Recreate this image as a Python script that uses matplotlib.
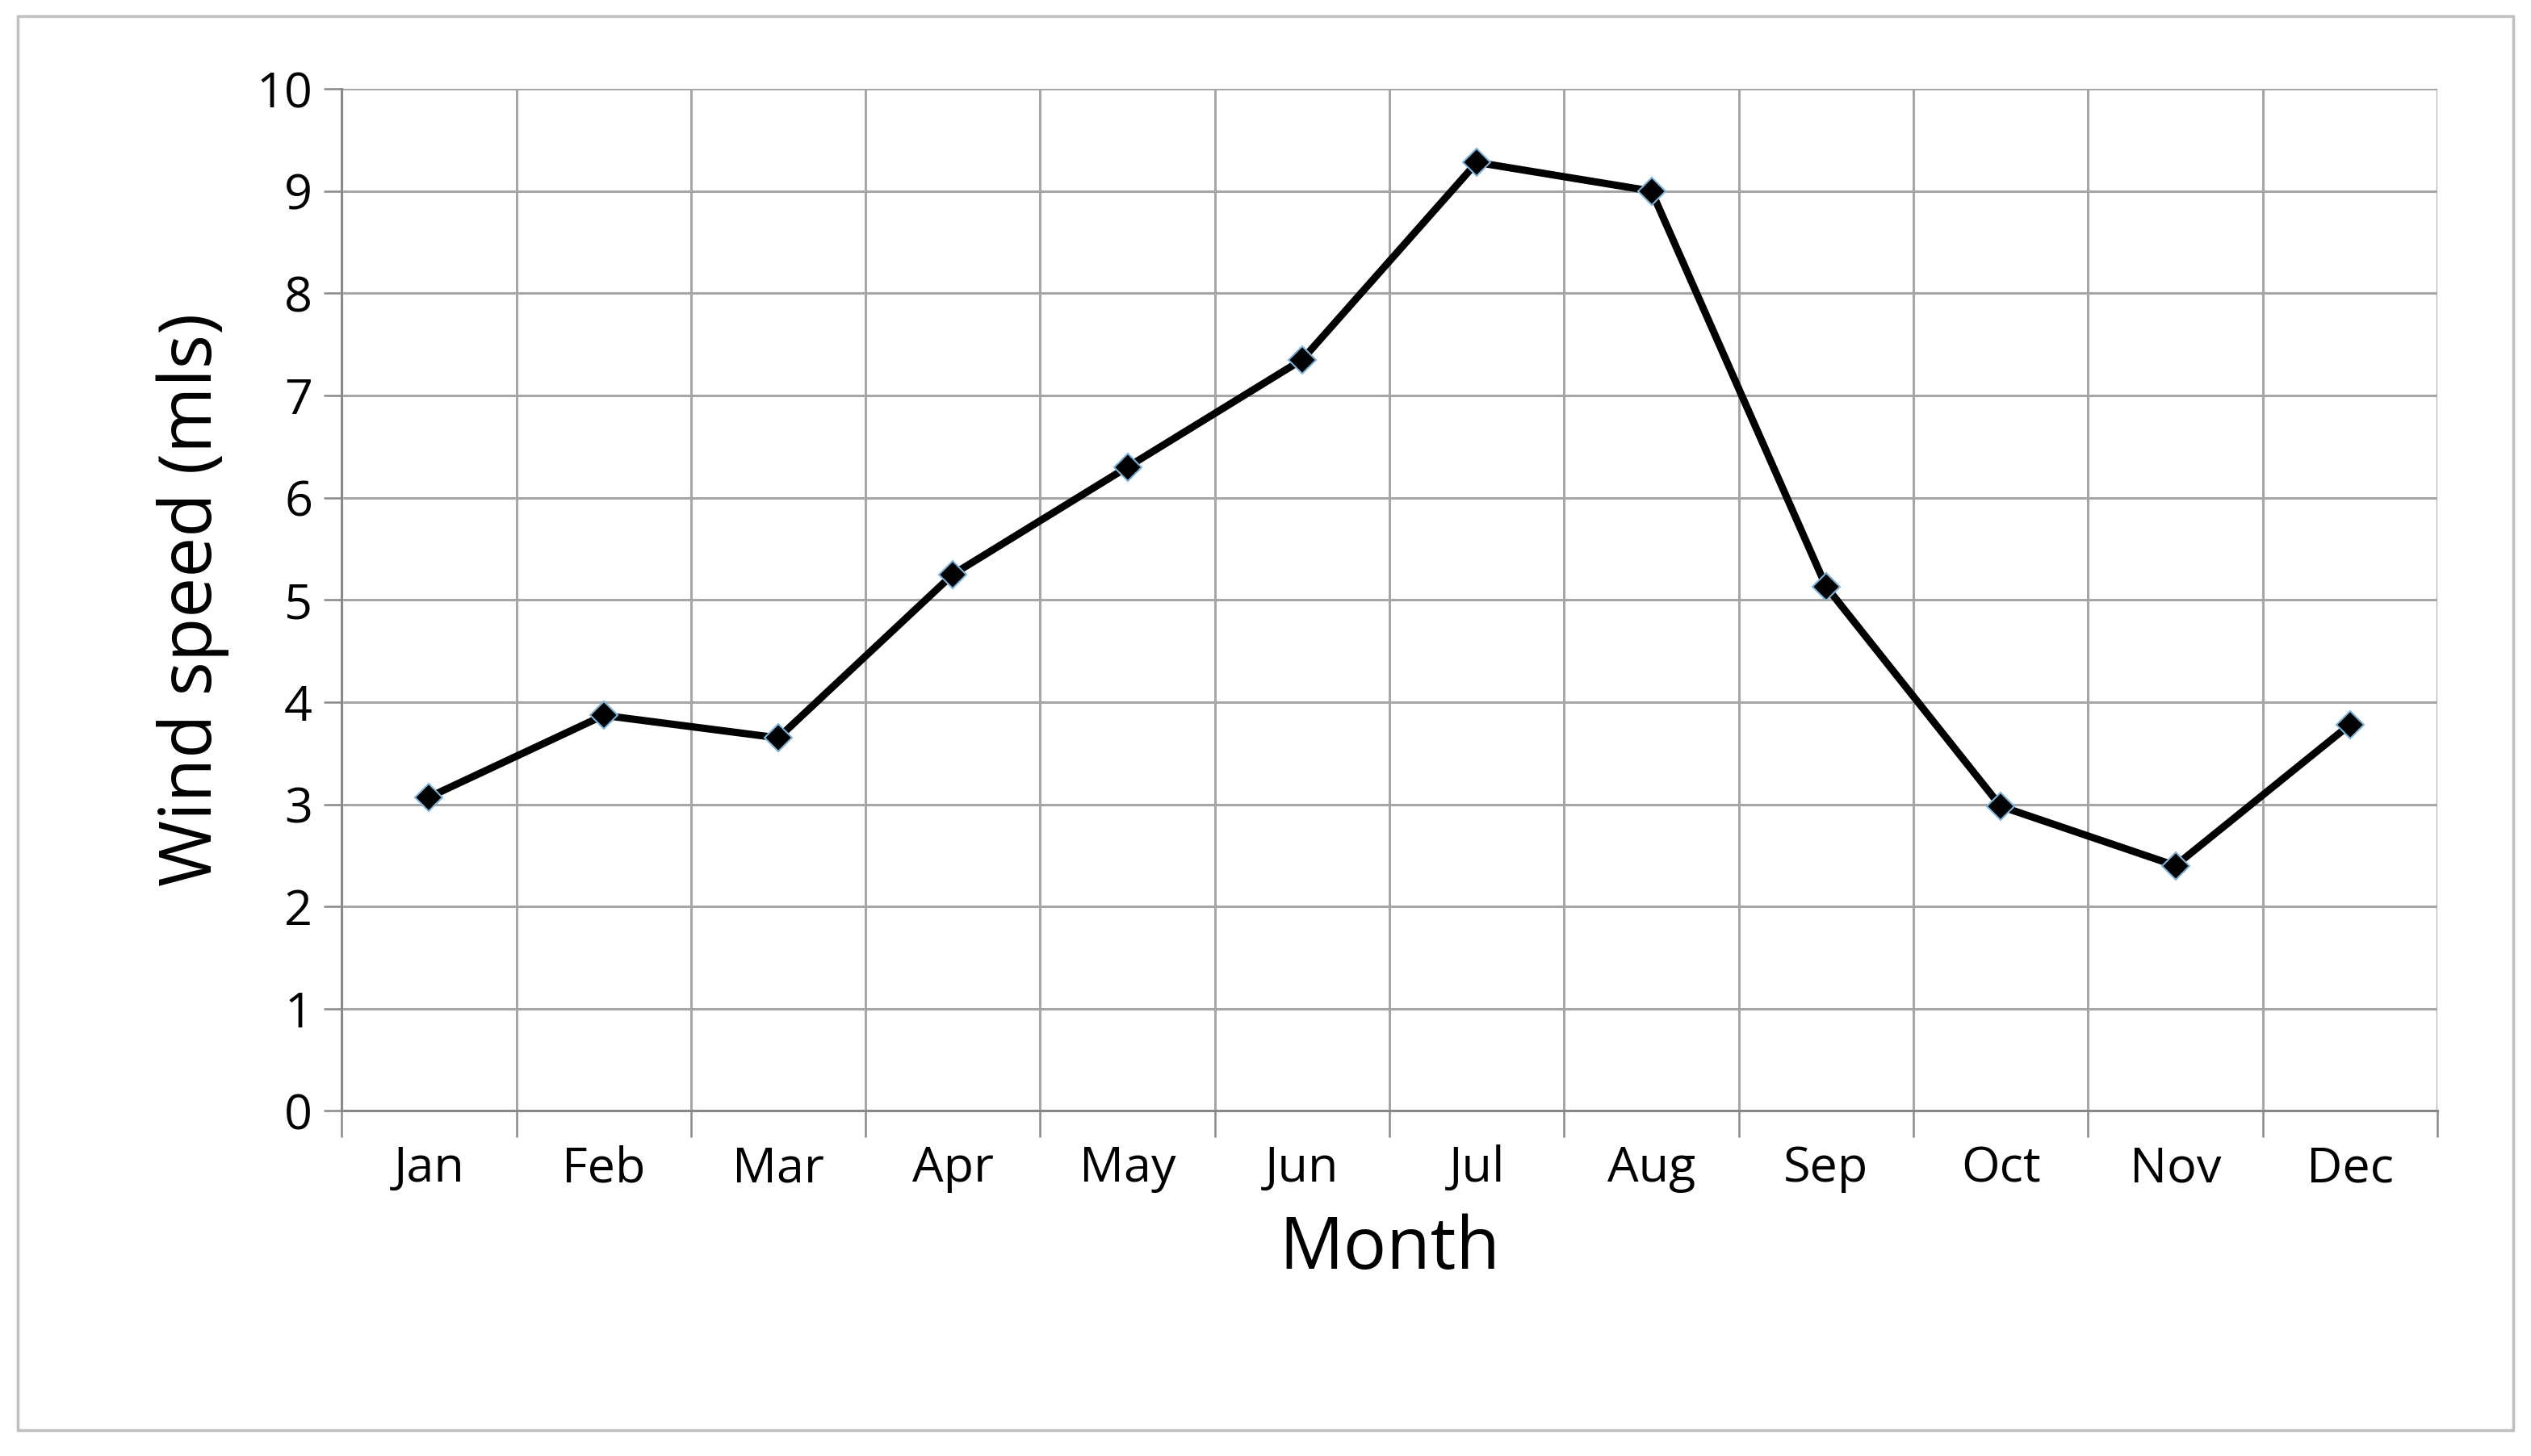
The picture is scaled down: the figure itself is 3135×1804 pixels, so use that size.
import matplotlib.pyplot as plt
import numpy as np
from matplotlib.patches import Rectangle

months = ["Jan", "Feb", "Mar", "Apr", "May", "Jun", "Jul", "Aug", "Sep", "Oct", "Nov", "Dec"]
wind_speed = [3.07, 3.87, 3.65, 5.25, 6.3, 7.35, 9.28, 9.0, 5.13, 2.98, 2.4, 3.78]

plt.rcParams["font.family"] = ["Open Sans", "DejaVu Sans"]

fig = plt.figure(figsize=(31.35, 18.04), dpi=100)
fig.patches.append(Rectangle((0.007, 0.018), 0.986, 0.971, transform=fig.transFigure,
                             fill=False, edgecolor="#bfbfbf", linewidth=2.5))
ax = fig.add_axes([0.135, 0.237, 0.828, 0.702])

x = np.arange(len(months))
ax.plot(x, wind_speed, color="black", linewidth=6.5, marker="D", markersize=17,
        markerfacecolor="black", markeredgecolor="#7fb2d9", markeredgewidth=1.5, zorder=3)

ax.set_xlim(-0.5, len(months) - 0.5)
ax.set_ylim(0, 10)
ax.set_yticks(range(0, 11))
ax.set_xticks(x)
ax.set_xticklabels(months)
ax.set_xticks(np.arange(-0.5, len(months)), minor=True)
ax.tick_params(axis="x", which="major", length=0, labelsize=44, pad=30)
ax.tick_params(axis="x", which="minor", length=24, width=1.8, color="#888888")
ax.tick_params(axis="y", labelsize=44, length=16, width=1.8, color="#888888", pad=10)
ax.grid(True, which="minor", axis="x", color="#a6a6a6", linewidth=2.2)
ax.grid(True, which="major", axis="y", color="#a6a6a6", linewidth=2.2)
for s in ["top", "right"]:
    ax.spines[s].set_visible(False)
for s in ["left", "bottom"]:
    ax.spines[s].set_color("#888888")
    ax.spines[s].set_linewidth(2.2)
ax.set_axisbelow(True)

ax.set_xlabel("Month", fontsize=64, labelpad=18)
ax.set_ylabel("Wind speed (mls)", fontsize=64, labelpad=24)

fig.savefig("out.png", dpi=100)
